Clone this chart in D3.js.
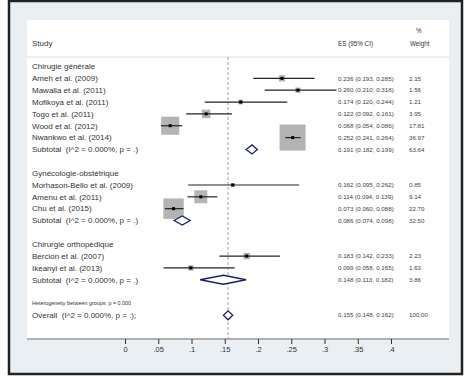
<!DOCTYPE html>
<html>
<head>
<meta charset="utf-8">
<script src="https://cdn.jsdelivr.net/npm/d3@7"></script>
<style>
  body { margin: 0; background: #fff; }
  svg { display: block; font-family: "Liberation Sans", Arial, sans-serif; }
</style>
</head>
<body>
<div id="chart"></div>
<script>
// forest plot data
const groupNames = ["Chirugie générale", "Gynécologie-obstétrique", "Chirurgie orthopédique"];
const studyNames = ["Ameh et al. (2009)", "Mawalla et al. (2011)", "Mofikoya et al. (2011)", "Togo et al. (2011)",
  "Wood et al. (2012)", "Nwankwo et al. (2014)",
  "Morhason-Bello et al. (2009)", "Amenu et al. (2011)", "Chu et al. (2015)",
  "Bercion et al. (2007)", "Ikeanyi et al. (2013)"];
const studyGroup = [0, 0, 0, 0, 0, 0, 1, 1, 1, 2, 2];
const studyEs = [0.236, 0.260, 0.174, 0.122, 0.068, 0.252, 0.162, 0.114, 0.073, 0.183, 0.099];
const studyLo = [0.193, 0.210, 0.120, 0.092, 0.054, 0.241, 0.095, 0.094, 0.060, 0.142, 0.058];
const studyHi = [0.285, 0.318, 0.244, 0.161, 0.086, 0.264, 0.262, 0.139, 0.088, 0.233, 0.165];
const studyWeight = [2.15, 1.56, 1.21, 3.95, 17.81, 36.97, 0.85, 9.14, 22.70, 2.23, 1.63];
const subtotalEs = [0.191, 0.086, 0.148];
const subtotalLo = [0.182, 0.074, 0.113];
const subtotalHi = [0.199, 0.098, 0.182];
const subtotalWeight = [63.64, 32.50, 3.86];
const overall = { es: 0.155, lo: 0.148, hi: 0.162, weight: 100.00 };
const tickValues = [0, 0.05, 0.1, 0.15, 0.2, 0.25, 0.3, 0.35, 0.4];
const tickLabels = ["0", ".05", ".1", ".15", ".2", ".25", ".3", ".35", ".4"];

const W = 474, H = 377;
const panel = { left: 27, right: 449, top: 20, bottom: 339 };

// build the rows: heading, studies, subtotal, blank, ...
let rows = [];
groupNames.forEach(function (g, gi) {
    rows.push({ type: "group", label: g });
    studyNames.forEach(function (s, i) {
        if (studyGroup[i] == gi) {
            rows.push({ type: "study", label: s, es: studyEs[i], lo: studyLo[i], hi: studyHi[i], w: studyWeight[i] });
        }
    });
    rows.push({ type: "sub", label: "Subtotal  (I^2 = 0.000%, p = .)", es: subtotalEs[gi], lo: subtotalLo[gi], hi: subtotalHi[gi], w: subtotalWeight[gi] });
    rows.push({ type: "blank" });
});
rows.push({ type: "het", label: "Heterogeneity between groups: p = 0.000" });
rows.push({ type: "sub", label: "Overall  (I^2 = 0.000%, p = .);", es: overall.es, lo: overall.lo, hi: overall.hi, w: overall.weight });
rows.forEach((r, i) => r.idx = i);

const x = d3.scaleLinear().domain([0, 0.4]).range([125, 391]);
const y = d3.scaleLinear().domain([0, rows.length - 1]).range([66.5, 315.3]);
const size = d3.scaleSqrt().domain([0, 100]).range([0, 42.8]);
const f3 = d3.format(".3f"), f2 = d3.format(".2f");

const svg = d3.select("#chart").append("svg")
    .attr("width", W)
    .attr("height", H);

// outer frame
svg.append("rect")
    .attr("x", 9).attr("y", 1)
    .attr("width", 453).attr("height", 373)
    .attr("fill", "#e9eff2")
    .attr("stroke", "#222")
    .attr("stroke-width", 2.5);

svg.append("rect")
    .attr("x", panel.left).attr("y", panel.top)
    .attr("width", panel.right - panel.left).attr("height", panel.bottom - panel.top)
    .attr("fill", "#fff");

// header
const hdr = svg.append("g").attr("fill", "#333");
hdr.append("text").text("Study").attr("x", 32).attr("y", 46).attr("font-size", 8);
hdr.append("text").text("ES (95% CI)").attr("x", 338).attr("y", 46).attr("font-size", 6.3);
hdr.append("text").text("%").attr("x", 416).attr("y", 33).attr("font-size", 6.3);
hdr.append("text").text("Weight").attr("x", 410).attr("y", 46).attr("font-size", 6.3);

svg.append("line")
    .attr("x1", panel.left).attr("x2", panel.right)
    .attr("y1", 57).attr("y2", 57)
    .attr("stroke", "#ddd").attr("stroke-width", 1);

// reference line at overall estimate
svg.append("line")
    .attr("x1", x(overall.es)).attr("x2", x(overall.es))
    .attr("y1", 57).attr("y2", panel.bottom)
    .attr("stroke", "#b79a9a")
    .attr("stroke-width", 1)
    .attr("stroke-dasharray", "3,2");

// left labels
svg.append("g").selectAll("text")
    .data(rows.filter(r => r.label))
    .enter().append("text")
    .text(d => d.label)
    .attr("x", 32)
    .attr("y", d => y(d.idx))
    .attr("dy", "0.35em")
    .attr("font-size", d => d.type == "het" ? 5.4 : 8)
    .attr("fill", "#333")
    .style("white-space", "pre");

// ES and weight columns
const est = rows.filter(r => r.type == "study" || r.type == "sub");
svg.append("g").selectAll("text")
    .data(est)
    .enter().append("text")
    .text(d => `${f3(d.es)} (${f3(d.lo)}, ${f3(d.hi)})`)
    .attr("x", 338)
    .attr("y", d => y(d.idx))
    .attr("dy", "0.35em")
    .attr("font-size", 6.2)
    .attr("fill", "#444");
svg.append("g").selectAll("text")
    .data(est)
    .enter().append("text")
    .text(d => f2(d.w))
    .attr("x", 409)
    .attr("y", d => y(d.idx))
    .attr("dy", "0.35em")
    .attr("font-size", 6.2)
    .attr("fill", "#444");

// study markers
const studies = rows.filter(r => r.type == "study");
const sg = svg.append("g");
sg.selectAll(".box")
    .data(studies)
    .enter().append("rect")
    .attr("class", "box")
    .attr("x", d => x(d.es) - size(d.w) / 2)
    .attr("y", d => y(d.idx) - size(d.w) / 2)
    .attr("width", d => size(d.w))
    .attr("height", d => size(d.w))
    .attr("fill", "#b4b4b4");
sg.selectAll(".ci")
    .data(studies)
    .enter().append("line")
    .attr("class", "ci")
    .attr("x1", d => x(d.lo)).attr("x2", d => x(d.hi))
    .attr("y1", d => y(d.idx)).attr("y2", d => y(d.idx))
    .attr("stroke", "#222")
    .attr("stroke-width", 1.2);
sg.selectAll(".pt")
    .data(studies)
    .enter().append("rect")
    .attr("class", "pt")
    .attr("x", d => x(d.es) - 1.5)
    .attr("y", d => y(d.idx) - 1.5)
    .attr("width", 3).attr("height", 3)
    .attr("fill", "#000");

// diamonds for subtotals and overall
svg.append("g").selectAll("path")
    .data(rows.filter(r => r.type == "sub"))
    .enter().append("path")
    .attr("d", d => {
        const cy = y(d.idx), h = 4.5;
        return `M${x(d.lo)},${cy}L${x(d.es)},${cy - h}L${x(d.hi)},${cy}L${x(d.es)},${cy + h}Z`;
    })
    .attr("fill", "#fff")
    .attr("stroke", "#1d1d73")
    .attr("stroke-width", 1.3);

// x axis
svg.append("line")
    .attr("x1", panel.left).attr("x2", panel.right)
    .attr("y1", panel.bottom).attr("y2", panel.bottom)
    .attr("stroke", "#999").attr("stroke-width", 1.5);

const axis = svg.append("g")
    .attr("transform", `translate(0, ${panel.bottom})`)
    .call(d3.axisBottom(x).tickValues(tickValues).tickFormat((d, i) => tickLabels[i]).tickSize(5).tickPadding(3));
axis.select(".domain").remove();
axis.selectAll(".tick line").attr("stroke", "#333");
axis.selectAll(".tick text")
    .attr("font-size", 7.5)
    .attr("font-family", "Liberation Sans, Arial, sans-serif")
    .attr("fill", "#333");
</script>
</body>
</html>
